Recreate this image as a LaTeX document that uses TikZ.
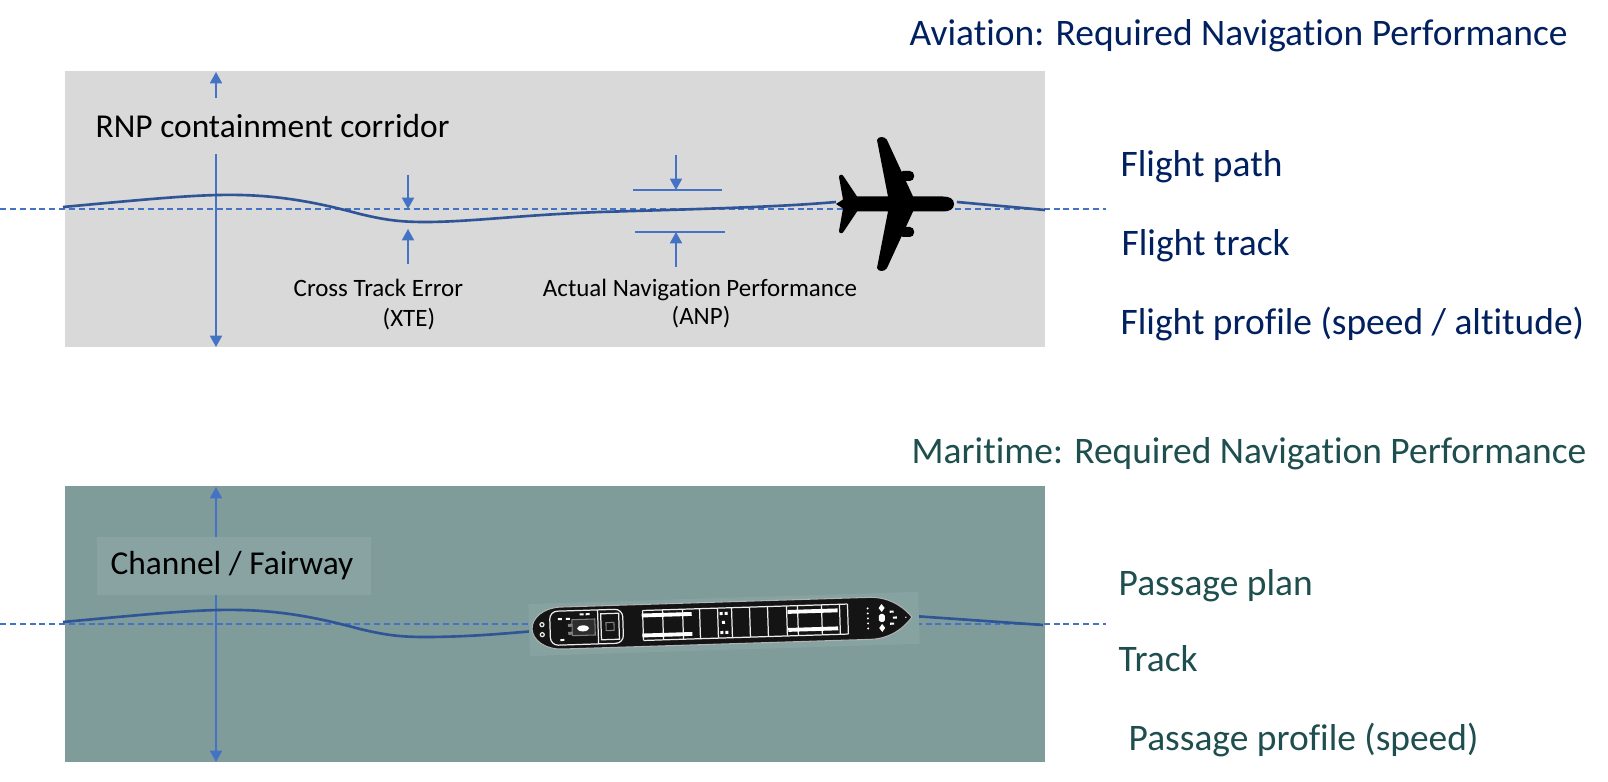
\documentclass[tikz,border=0pt]{standalone}
\usepackage{fontspec}
\setmainfont{Carlito}[Ligatures=NoCommon]
\usetikzlibrary{arrows.meta}
\definecolor{panelgray}{HTML}{D9D9D9}
\definecolor{panelteal}{HTML}{7F9C9B}
\definecolor{boxteal}{HTML}{88A3A2}
\definecolor{shipbg}{HTML}{86A3A2}
\definecolor{arrowblue}{HTML}{4472C4}
\definecolor{pathblue}{HTML}{2F5597}
\definecolor{navytext}{HTML}{002060}
\definecolor{tealtext}{HTML}{1E4E4E}
\begin{document}
\begin{tikzpicture}[x=0.01cm,y=-0.01cm,
  tipa/.style={-{Triangle[length=3.2pt,width=3.4pt]}},
  dimarrow/.style={draw=arrowblue, line width=0.45pt, tipa},
  dimboth/.style={draw=arrowblue, line width=0.45pt, {Triangle[length=3.2pt,width=3.4pt]}-{Triangle[length=3.2pt,width=3.4pt]}},
  tickline/.style={draw=arrowblue, line width=0.45pt},
  trackline/.style={draw=arrowblue, line width=0.35pt, dash pattern=on 1.7pt off 1.1pt},
  pathline/.style={draw=pathblue, line width=0.75pt},
  titletext/.style={font=\fontsize{10.65pt}{12.5pt}\selectfont, anchor=base west, inner sep=0},
  midtext/.style={font=\fontsize{9.5pt}{11.5pt}\selectfont, inner sep=0},
  smalltext/.style={font=\fontsize{7.1pt}{8.5pt}\selectfont, inner sep=0},
  shipdet/.style={draw=white!85!gray, line width=0.35pt},
]
\useasboundingbox (0,0) rectangle (1608,782);
\fill[white] (0,0) rectangle (1608,782);

% ---------------- panels ----------------
\fill[panelgray] (65,71) rectangle (1045,347);
\fill[panelteal] (65,486) rectangle (1045,762);

% ---------------- top panel ----------------
\coordinate (tl0) at (0,209);
\coordinate (tl1) at (1106,209);
\draw[trackline] (tl0) -- (tl1);

\coordinate (rnpA) at (216,72);
\coordinate (rnpB) at (216,347);
\draw[dimboth] (rnpB) -- (rnpA);
\node[midtext, fill=panelgray, inner xsep=2pt, minimum height=0.56cm, anchor=west] (rnp) at (88,126) {RNP containment corridor};

% flight path
\coordinate (fp0) at (63,207);
\coordinate (fp1) at (836,202);
\draw[pathline] (fp0) .. controls (150,199) and (200,194) .. (240,195)
   .. controls (290,196) and (330,206) .. (360,214)
   .. controls (385,220) and (400,222) .. (425,222)
   .. controls (470,222) and (520,215) .. (600,212)
   .. controls (700,209) and (780,207) .. (fp1);
\coordinate (fp2) at (957,202);
\coordinate (fp3) at (1045,210);
\draw[pathline] (fp2) -- (fp3);

% XTE
\coordinate (xteA) at (408,175);
\coordinate (xteB) at (408,209);
\coordinate (xteC) at (408,264);
\coordinate (xteD) at (408,229);
\draw[dimarrow] (xteA) -- (xteB);
\draw[dimarrow] (xteC) -- (xteD);
\node[smalltext, anchor=base west] (xte1) at (293,297) {Cross Track Error};
\node[smalltext, anchor=base west] (xte2) at (382,327) {(XTE)};

% ANP
\coordinate (anpA) at (676,155);
\coordinate (anpB) at (676,190);
\coordinate (anpC) at (676,267);
\coordinate (anpD) at (676,232);
\coordinate (anpL1) at (633,190);
\coordinate (anpR1) at (722,190);
\coordinate (anpL2) at (635,232);
\coordinate (anpR2) at (725,232);
\draw[tickline] (anpL1) -- (anpR1);
\draw[tickline] (anpL2) -- (anpR2);
\draw[dimarrow] (anpA) -- (anpB);
\draw[dimarrow] (anpC) -- (anpD);
\node[smalltext, anchor=base] (anp1) at (700,297) {Actual Navigation Performance};
\node[smalltext, anchor=base] (anp2) at (701,325) {(ANP)};

% airplane
\fill[black] (954,204) .. controls (954,198.5) and (949,196.5) .. (943,196.5) -- (913,196.5)
  -- (887,140) .. controls (885,136) and (878,136) .. (877,140) -- (888,196.5)
  -- (857,196.5) -- (844,177) .. controls (843,174) and (839,174) .. (839,177)
  -- (843,199.5) -- (836,204) -- (843,208.5)
  -- (839,231) .. controls (839,234) and (843,234) .. (844,231)
  -- (857,211.5) -- (888,211.5)
  -- (877,268) .. controls (878,272) and (885,272) .. (887,268)
  -- (913,211.5) -- (943,211.5) .. controls (949,211.5) and (954,209.5) .. (954,204) -- cycle;
\fill[black, rounded corners=1.2pt] (899,171) rectangle (914,181);
\fill[black, rounded corners=1.2pt] (899,227) rectangle (914,237);

% ---------------- bottom panel ----------------
\coordinate (bl0) at (0,624);
\coordinate (bl1) at (1106,624);
\draw[trackline] (bl0) -- (bl1);

\coordinate (chA) at (216,487);
\coordinate (chB) at (216,762);
\draw[dimboth] (chB) -- (chA);
\node[midtext, fill=boxteal, minimum width=2.74cm, minimum height=0.58cm] (channel) at (234,566) {\hspace*{-0.04cm}Channel / Fairway};

% passage track
\coordinate (pp0) at (63,622);
\coordinate (pp1) at (535,631);
\draw[pathline] (pp0) .. controls (150,614) and (200,609) .. (240,610)
   .. controls (290,611) and (330,621) .. (360,629)
   .. controls (385,635) and (400,637) .. (425,637)
   .. controls (470,637) and (510,633) .. (pp1);
\coordinate (pp2) at (913,616);
\coordinate (pp3) at (1043,625);
\draw[pathline] (pp2) -- (pp3);

% ship
\begin{scope}[shift={(722,623)}, rotate=1.8]
  \fill[shipbg] (-193,-25) rectangle (197,27);
  \fill[black!92, draw=gray!60, line width=0.3pt] (-160,-21) -- (148,-21)
     .. controls (170,-21) and (184,-8) .. (190,0)
     .. controls (184,8) and (170,21) .. (148,21) -- (-160,21)
     .. controls (-178,21) and (-190,11) .. (-190,0)
     .. controls (-190,-11) and (-178,-21) .. (-160,-21) -- cycle;
  % superstructure
  \draw[shipdet, rounded corners=2.2pt] (-172,-17) rectangle (-99,17);
  \draw[shipdet] (-124,-17) -- (-124,17);
  \draw[shipdet] (-121,-13) rectangle (-103,13);
  \draw[draw=gray, line width=0.3pt] (-116,-4) rectangle (-108,4);
  \fill[gray!35!black, draw=gray, line width=0.3pt] (-150,-8) rectangle (-127,8);
  \fill[white] (-139,1) ellipse (0.06cm and 0.03cm);
  \fill[white] (-164,-10) rectangle (-160,-8);
  \fill[white] (-156,-10) rectangle (-152,-8);
  \fill[white] (-142,-14) rectangle (-138,-12);
  \fill[white] (-136,-14) rectangle (-132,-12);
  \fill[white] (-162,11) rectangle (-158,13);
  \fill[gray] (-154,-4) rectangle (-150,-1);
  \fill[gray] (-154,4) rectangle (-150,7);
  \draw[shipdet] (-180,-4) circle (0.02cm);
  \draw[shipdet] (-180,6) circle (0.02cm);
  % hatches
  \draw[shipdet] (-79,-15) -- (126,-15);
  \draw[shipdet] (-79,15) -- (126,15);
  \foreach \hx in {-79,-59,-39,-22,-4,10,28,46,65,76,100,118,126}
    \draw[shipdet] (\hx,-15) -- (\hx,15);
  \draw[white, line width=1.1pt] (-80,-10) -- (-30,-10);
  \draw[white, line width=1.1pt] (-80,10) -- (-30,10);
  \draw[white, line width=1.1pt] (66,-9) -- (116,-9);
  \draw[white, line width=1.1pt] (66,9) -- (116,9);
  \fill[white] (-2,-11) rectangle (1,-8);
  \fill[white] (3,-11) rectangle (6,-8);
  \fill[white] (-2,8) rectangle (1,11);
  \fill[white] (3,8) rectangle (6,11);
  \fill[white] (0,-2) rectangle (3,1);
  % bow
  \foreach \dy in {-10,-5,0,5,10}
    \fill[white] (146,\dy) circle (0.011cm);
  \fill[white] (160,-14) -- (163,-10) -- (160,-6) -- (157,-10) -- cycle;
  \fill[white] (160,6) -- (163,10) -- (160,14) -- (157,10) -- cycle;
  \fill[white, rounded corners=0.5pt] (157,-4) rectangle (163,4);
  \draw[white, line width=0.6pt] (168,-6) -- (172,-6);
  \draw[white, line width=0.6pt] (168,6) -- (172,6);
  \draw[white, line width=0.6pt] (171,0) -- (175,0);
  \fill[white] (184,0) circle (0.008cm);
\end{scope}

% ---------------- right-hand labels ----------------
\node[titletext, text=navytext] (avt) at (909,46) {Aviation: Required Navigation Performance};
\node[titletext, text=navytext] (fpath) at (1120,177) {Flight path};
\node[titletext, text=navytext] (ftrack) at (1121,256) {Flight track};
\node[titletext, text=navytext] (fprof) at (1120,334) {Flight profile (speed / altitude)};

\node[titletext, text=tealtext] (mart) at (911,464) {Maritime: Required Navigation Performance};
\node[titletext, text=tealtext] (pplan) at (1118,595) {Passage plan};
\node[titletext, text=tealtext] (ptrack) at (1118,672) {Track};
\node[titletext, text=tealtext] (pprof) at (1128,750) {Passage profile (speed)};
\end{tikzpicture}
\end{document}
